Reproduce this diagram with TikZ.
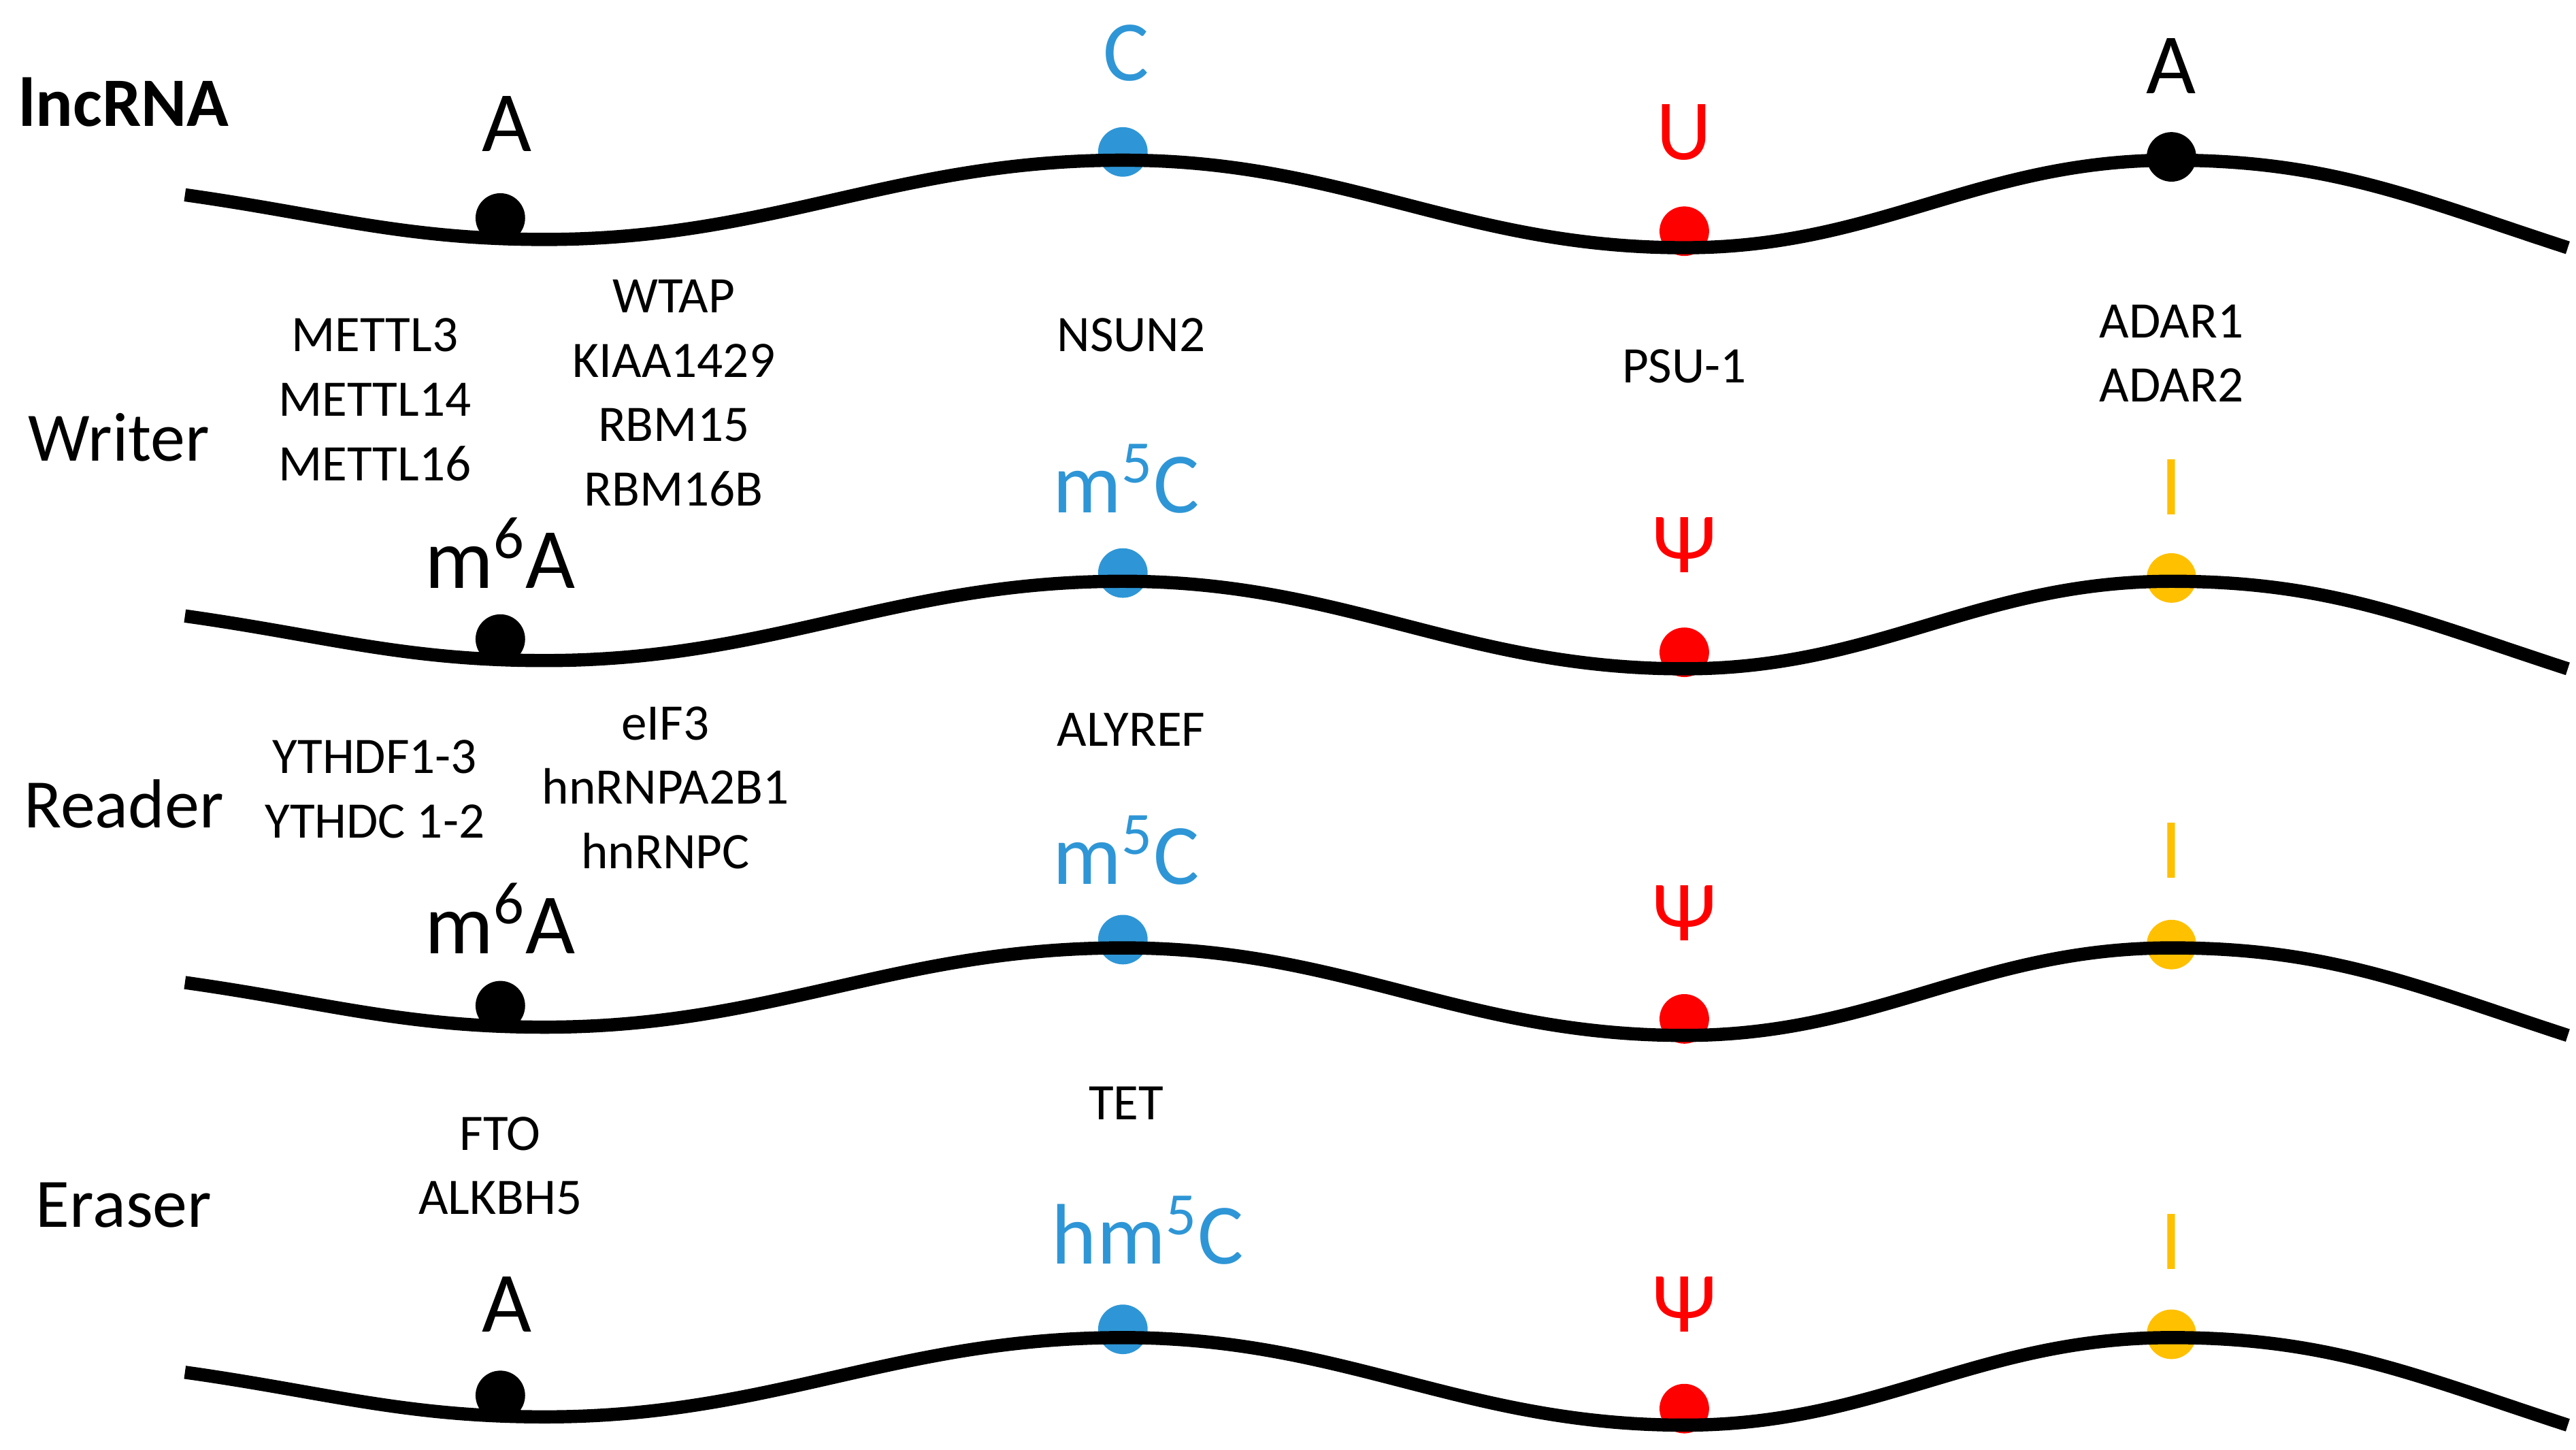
\documentclass[tikz,border=0pt]{standalone}
\usepackage{fontspec}
\setmainfont{Carlito}
\definecolor{cblue}{RGB}{46,150,214}
\definecolor{cred}{RGB}{255,0,0}
\definecolor{corange}{RGB}{255,192,0}
\tikzset{
  wave/.style={line width=4pt,black},
  lab/.style={font=\fontsize{15.5}{19.5}\selectfont,align=center,inner sep=0},
  big/.style={font=\fontsize{26}{28}\selectfont,inner sep=0},
  row/.style={font=\fontsize{21}{23}\selectfont,inner sep=0},
}
\begin{document}
\begin{tikzpicture}[x=0.5pt,y=-0.5pt]
\useasboundingbox (0,0) rectangle (1560,878);
\fill[white] (0,0) rectangle (1560,878);
\foreach \o/\b/\r/\f in {0/cblue/cred/black,255/cblue/cred/corange,477/cblue/cred/corange,713/cblue/cred/corange}{
 \begin{scope}[yshift=-\o*0.5pt]
 \fill[black] (303,132) circle (15);
 \fill[\b] (680,92) circle (15);
 \fill[\r] (1020,140) circle (15);
 \fill[\f] (1315,95) circle (15);
 \draw[wave] (112,118) to[out=-8,in=180] (330,145) to[out=0,in=180] (680,97) to[out=0,in=180] (1020,150) to[out=0,in=180] (1315,97) to[out=0,in=162] (1555,150);
 \end{scope}}
% row 1
\node[row,font=\fontsize{21}{23}\selectfont\bfseries] (l1) at (75,62) {lncRNA};
\node[big] (a1) at (307,75) {A};
\node[big,text=cblue] (c1) at (682,32) {C};
\node[big,text=cred] (u1) at (1020,80) {U};
\node[big] (a2) at (1315,40) {A};
% row 2
\node[row] (l2) at (72,265) {Writer};
\node[lab] (w1) at (227,242) {METTL3\\METTL14\\METTL16};
\node[lab] (w2) at (408,238) {WTAP\\KIAA1429\\RBM15\\RBM16B};
\node[lab] (w3) at (685,203) {NSUN2};
\node[lab] (w4) at (1020,222) {PSU-1};
\node[lab] (w5) at (1315,214) {ADAR1\\ADAR2};
\node[big] (m2a) at (303,335) {m\textsuperscript{6}A};
\node[big,text=cblue] (m2c) at (682,290) {m\textsuperscript{5}C};
\node[big,text=cred] (m2u) at (1020,330) {Ψ};
\node[big,text=corange] (m2i) at (1315,295) {I};
% row 3
\node[row] (l3) at (75,487) {Reader};
\node[lab] (r1) at (227,478) {YTHDF1-3\\YTHDC 1-2};
\node[lab] (r2) at (403,477) {eIF3\\hnRNPA2B1\\hnRNPC};
\node[lab] (r3) at (685,442) {ALYREF};
\node[big] (m3a) at (303,556) {m\textsuperscript{6}A};
\node[big,text=cblue] (m3c) at (682,515) {m\textsuperscript{5}C};
\node[big,text=cred] (m3u) at (1020,553) {Ψ};
\node[big,text=corange] (m3i) at (1315,515) {I};
% row 4
\node[row] (l4) at (75,730) {Eraser};
\node[lab] (e1) at (303,706) {FTO\\ALKBH5};
\node[lab] (e2) at (682,668) {TET};
\node[big] (m4a) at (307,790) {A};
\node[big,text=cblue] (m4c) at (695,745) {hm\textsuperscript{5}C};
\node[big,text=cred] (m4u) at (1020,790) {Ψ};
\node[big,text=corange] (m4i) at (1315,752) {I};
\end{tikzpicture}
\end{document}
